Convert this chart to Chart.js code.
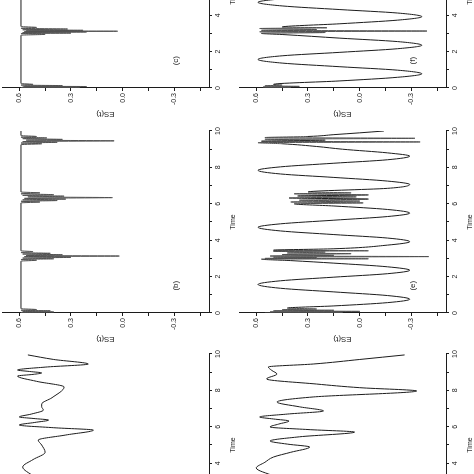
<!DOCTYPE html>
<html>
<head>
<meta charset="utf-8">
<title>ES(t)</title>
<script src="https://cdn.jsdelivr.net/npm/chart.js@4.4.1/dist/chart.umd.min.js"></script>
<style>
html, body { margin: 0; padding: 0; background: #fff; }
body { width: 474px; height: 474px; overflow: hidden; position: relative; }
/* the figure is drawn upright, then turned a quarter turn counter-clockwise */
#fig { position: absolute; left: 0; top: 0; width: 700px; height: 500px;
       transform-origin: 0 0; transform: translate(-18px, 586px) rotate(-90deg); }
#fig canvas { position: absolute; }
</style>
</head>
<body>
<div id="fig"></div>
<script>
// tick marks and their labels
var timeTicks = [0, 1, 2, 3, 4, 5, 6, 7, 8, 9, 10];
var timeTickLabels = ['0', '', '2', '', '4', '', '6', '', '8', '', '10'];
var esTicks = [-0.45, -0.3, -0.15, 0, 0.15, 0.3, 0.45, 0.6];
var esTickLabels = ['', '-0.3', '', '0.0', '', '0.3', '', '0.6'];

// (a)
var aT = [3.3, 3.79, 4.2, 4.6, 5.0, 5.27, 5.55, 5.82, 5.95, 6.1, 6.24, 6.37, 6.46, 6.54, 6.7, 6.92, 7.1, 7.25, 7.6, 8.19, 8.5, 8.79, 8.88, 8.96, 9.04, 9.12, 9.28, 9.45, 9.7, 9.95];
var aV = [0.52, 0.58, 0.52, 0.45, 0.47, 0.49, 0.33, 0.17, 0.40, 0.60, 0.51, 0.43, 0.52, 0.60, 0.53, 0.46, 0.47, 0.47, 0.41, 0.34, 0.50, 0.61, 0.52, 0.47, 0.54, 0.61, 0.45, 0.20, 0.40, 0.55];

// (b)
var bT = [0, 0.03, 0.06, 0.09, 0.12, 0.15, 0.19, 0.24,
          2.85, 2.9, 2.94, 2.98, 3.02, 3.06, 3.1, 3.13, 3.16, 3.2, 3.24, 3.28, 3.32, 3.37, 3.42,
          6.05, 6.1, 6.14, 6.18, 6.22, 6.26, 6.3, 6.34, 6.38, 6.42, 6.46, 6.5, 6.55, 6.6, 6.65,
          9.25, 9.3, 9.34, 9.38, 9.42, 9.46, 9.5, 9.54, 9.58, 9.62, 9.66, 9.7, 9.75, 10];
var bV = [0.45, 0.59, 0.40, 0.58, 0.42, 0.59, 0.50, 0.59,
          0.59, 0.50, 0.59, 0.40, 0.58, 0.30, 0.57, 0.02, 0.56, 0.35, 0.58, 0.42, 0.59, 0.52, 0.59,
          0.59, 0.48, 0.59, 0.38, 0.58, 0.33, 0.57, 0.06, 0.55, 0.34, 0.58, 0.40, 0.59, 0.48, 0.59,
          0.59, 0.47, 0.59, 0.38, 0.58, 0.05, 0.56, 0.35, 0.58, 0.44, 0.59, 0.50, 0.59, 0.59];

// (c)
var cT = [0, 0.02, 0.04, 0.06, 0.08, 0.1, 0.13, 0.16, 0.2, 0.25,
          2.9, 2.95, 2.99, 3.02, 3.05, 3.08, 3.1, 3.12, 3.14, 3.17, 3.2, 3.24, 3.28, 3.33, 3.38,
          6.1, 6.2, 6.24, 6.27, 6.3, 6.33, 6.36, 6.4, 6.45, 10];
var cV = [0.40, 0.59, 0.25, 0.58, 0.21, 0.57, 0.35, 0.59, 0.52, 0.59,
          0.59, 0.45, 0.59, 0.30, 0.58, 0.21, 0.57, 0.03, 0.56, 0.23, 0.58, 0.32, 0.59, 0.50, 0.59,
          0.59, 0.40, 0.59, 0.22, 0.57, 0.04, 0.58, 0.30, 0.59, 0.59];

// (d)
var dT = [3.3, 3.74, 4.05, 4.34, 4.6, 4.89, 5.05, 5.22, 5.45, 5.71, 5.85, 5.99, 6.15, 6.32, 6.43, 6.54, 6.7, 6.87, 7.1, 7.36, 7.64, 7.97, 8.15, 8.35, 8.63, 8.9, 9.1, 9.29, 9.45, 9.7, 9.95];
var dV = [0.50, 0.60, 0.55, 0.50, 0.40, 0.29, 0.42, 0.52, 0.35, 0.03, 0.30, 0.52, 0.47, 0.41, 0.50, 0.58, 0.42, 0.21, 0.35, 0.48, 0.27, -0.33, 0.00, 0.25, 0.54, 0.48, 0.51, 0.53, 0.27, 0.00, -0.26];

// (e)
var eT = [0, 0.03, 0.06, 0.09, 0.12, 0.15, 0.18, 0.22, 0.27,
          0.39, 0.57, 0.76, 0.96, 1.16, 1.36, 1.57, 1.77, 1.97, 2.16, 2.35, 2.54, 2.74, 2.88,
          2.96, 2.98, 3.0, 3.04, 3.07, 3.1, 3.13, 3.17, 3.21, 3.26, 3.3, 3.35, 3.39, 3.42, 3.45,
          3.53, 3.73, 3.92, 4.12, 4.31, 4.51, 4.71, 4.9, 5.1, 5.3, 5.49, 5.69, 5.88,
          6.0, 6.05, 6.1, 6.15, 6.2, 6.26, 6.32, 6.38, 6.43, 6.49, 6.55, 6.6, 6.65,
          6.85, 7.06, 7.25, 7.45, 7.64, 7.84, 8.03, 8.23, 8.42, 8.62, 8.8, 9.0, 9.15,
          9.3, 9.36, 9.4, 9.44, 9.5, 9.55, 9.6, 9.64, 9.7, 9.8, 9.9, 10];
var eV = [0.55, 0.10, 0.52, 0.00, 0.50, 0.15, 0.45, 0.25, 0.42,
          0.15, -0.16, -0.29, -0.16, 0.15, 0.46, 0.59, 0.46, 0.15, -0.16, -0.29, -0.16, 0.15, 0.40,
          0.57, -0.05, 0.55, 0.25, 0.50, -0.40, 0.52, 0.15, 0.45, 0.05, 0.42, 0.20, 0.50, -0.05, 0.50,
          0.15, -0.16, -0.29, -0.16, 0.15, 0.46, 0.59, 0.46, 0.15, -0.16, -0.29, -0.16, 0.15,
          0.38, -0.02, 0.40, 0.00, 0.35, -0.05, 0.41, 0.02, 0.36, -0.05, 0.38, 0.05, 0.30,
          -0.16, -0.29, -0.16, 0.15, 0.46, 0.59, 0.46, 0.15, -0.16, -0.29, -0.16, 0.10, 0.25,
          0.45, 0.59, -0.35, 0.57, 0.20, 0.55, -0.32, 0.55, 0.30, 0.15, 0.00, -0.14];

// (f)
var fT = [0, 0.03, 0.06, 0.09, 0.12, 0.16, 0.2,
          0.39, 0.59, 0.78, 0.98, 1.17, 1.37, 1.57, 1.77, 1.96, 2.16, 2.35, 2.55, 2.74, 2.94,
          3.0, 3.05, 3.09, 3.13, 3.17, 3.22, 3.27, 3.31, 3.35,
          3.53, 3.73, 3.92, 4.12, 4.31, 4.51, 4.71, 4.9, 5.1, 5.3, 5.49];
var fV = [0.55, 0.40, 0.56, 0.35, 0.55, 0.45, 0.50,
          0.115, -0.22, -0.36, -0.22, 0.115, 0.45, 0.59, 0.45, 0.115, -0.22, -0.36, -0.22, 0.115, 0.45,
          0.57, 0.20, 0.58, -0.39, 0.57, 0.25, 0.58, 0.19, 0.45,
          0.115, -0.22, -0.36, -0.22, 0.115, 0.45, 0.59, 0.45, 0.115, -0.22, -0.36];

var labelT = 1.5;
var labelES = -0.31;

// plot-area origins in the upright figure
var colX = [50, 273, 498];
var rowY = [20, 257];

var panels = [
    { name: '(a)', t: aT, v: aV, col: 0, row: 0 },
    { name: '(b)', t: bT, v: bV, col: 1, row: 0 },
    { name: '(c)', t: cT, v: cV, col: 2, row: 0 },
    { name: '(d)', t: dT, v: dV, col: 0, row: 1 },
    { name: '(e)', t: eT, v: eV, col: 1, row: 1 },
    { name: '(f)', t: fT, v: fV, col: 2, row: 1 }
];

var ink = '#1c1c1c';
var bundleInk = '#505050';   // fast wiggles look grey in the scan
var fontName = '"Liberation Sans", Arial, sans-serif';

var panelLabel = {
    id: 'panelLabel',
    afterDatasetsDraw(chart, args, opts) {
        var ctx = chart.ctx;
        ctx.save();
        ctx.font = '8px ' + fontName;
        ctx.fillStyle = ink;
        ctx.textAlign = 'center';
        ctx.textBaseline = 'middle';
        ctx.fillText(opts.text, chart.scales.x.getPixelForValue(labelT), chart.scales.y.getPixelForValue(labelES));
        ctx.restore();
    }
};

var fig = document.getElementById('fig');

for (var p of panels) {
    var cv = document.createElement('canvas');
    cv.width = 221;
    cv.height = 243;
    cv.style.left = (colX[p.col] - 31) + 'px';
    cv.style.top = (rowY[p.row] - 8) + 'px';
    fig.appendChild(cv);

    var pts = p.t.map(function (t, i) { return { x: t, y: p.v[i] }; });

    new Chart(cv.getContext('2d'), {
        type: 'line',
        data: {
            datasets: [{
                data: pts,
                borderColor: ink,
                borderWidth: 1,
                pointRadius: 0,
                fill: false,
                cubicInterpolationMode: 'monotone',
                segment: {
                    borderColor: function (ctx) {
                        return (ctx.p1.parsed.x - ctx.p0.parsed.x) < 0.06 ? bundleInk : undefined;
                    }
                }
            }]
        },
        options: {
            responsive: false,
            animation: false,
            devicePixelRatio: 1,
            layout: { padding: { top: 8, right: 8, left: 0, bottom: 0 } },
            plugins: {
                legend: { display: false },
                tooltip: { enabled: false },
                panelLabel: { text: p.name }
            },
            scales: {
                x: {
                    type: 'linear',
                    min: 0,
                    max: 10,
                    afterBuildTicks: function (s) { s.ticks = timeTicks.map(function (v) { return { value: v }; }); },
                    afterFit: function (s) { s.height = 28; },
                    ticks: {
                        callback: function (v, i) { return timeTickLabels[i]; },
                        autoSkip: false, maxRotation: 0, padding: 2,
                        color: ink, font: { size: 7, family: fontName }
                    },
                    grid: { drawOnChartArea: false, tickLength: 3, color: ink },
                    border: { color: ink, width: 1 },
                    title: { display: true, text: 'Time', padding: 0, color: ink, font: { size: 7, family: fontName } }
                },
                y: {
                    type: 'linear',
                    min: -0.5,
                    max: 0.7,
                    afterBuildTicks: function (s) { s.ticks = esTicks.map(function (v) { return { value: v }; }); },
                    afterFit: function (s) { s.width = 31; },
                    ticks: {
                        callback: function (v, i) { return esTickLabels[i]; },
                        autoSkip: false, padding: 2,
                        color: ink, font: { size: 7, family: fontName }
                    },
                    grid: { drawOnChartArea: false, tickLength: 3, color: ink },
                    border: { color: ink, width: 1 },
                    title: { display: true, text: 'ES(t)', padding: 0, color: ink, font: { size: 8, family: fontName } }
                }
            }
        },
        plugins: [panelLabel]
    });
}
</script>
</body>
</html>
